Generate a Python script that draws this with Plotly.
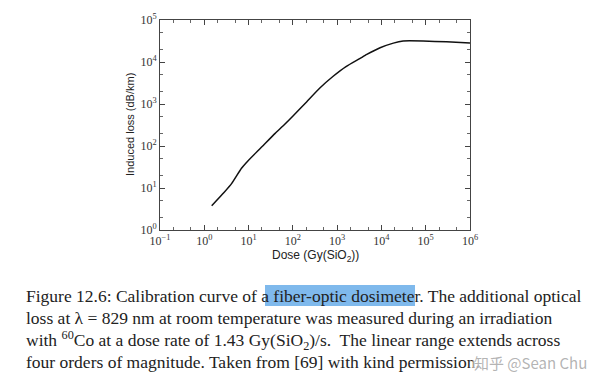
import plotly.graph_objects as go

# Data
dose = [1.47, 2.82, 4.17, 6.92, 9.77, 20.0, 39.8, 63.1, 102, 204, 407, 813, 1585,
        3236, 4677, 9333, 18621, 30903, 87096, 295121, 1000000]
loss = [3.8, 7.94, 12.9, 29.5, 44.7, 95.5, 200, 316, 525, 1122, 2399, 4571, 7762,
        12023, 15136, 21878, 28184, 31623, 31623, 30200, 28184]

x_tickvals = [0.1, 1, 10, 100, 1e3, 1e4, 1e5, 1e6]
x_ticktext = ["10<sup>−1</sup>", "10<sup>0</sup>", "10<sup>1</sup>", "10<sup>2</sup>",
              "10<sup>3</sup>", "10<sup>4</sup>", "10<sup>5</sup>", "10<sup>6</sup>"]
y_tickvals = [1, 10, 100, 1e3, 1e4, 1e5]
y_ticktext = ["10<sup>0</sup>", "10<sup>1</sup>", "10<sup>2</sup>", "10<sup>3</sup>",
              "10<sup>4</sup>", "10<sup>5</sup>"]

x_title = "Dose (Gy(SiO<sub>2</sub>))"
y_title = "Induced loss (dB/km)"

caption_lines = [
    "Figure 12.6: Calibration curve of a fiber-optic dosimeter. The additional optical",
    "loss at λ = 829 nm at room temperature was measured during an irradiation",
    "with <sup>60</sup>Co at a dose rate of 1.43 Gy(SiO<sub>2</sub>)/s.  The linear range extends across",
    "four orders of magnitude. Taken from [69] with kind permission.",
]
watermark = "知乎 @Sean Chu"

W, H = 600, 375
L, R, T, B = 160, 130, 20, 145
pw, ph = W - L - R, H - T - B

def px(x):
    return (x - L) / pw

def py(y):
    return (H - B - y) / ph

fig = go.Figure()
fig.add_trace(go.Scatter(x=dose, y=loss, mode="lines",
                         line=dict(color="#111", width=1.5, shape="spline", smoothing=0.5),
                         showlegend=False, hoverinfo="skip"))

tickfont = dict(family="Liberation Serif", size=12, color="#333")
axcommon = dict(type="log", showgrid=False, zeroline=False, showline=True,
                linecolor="#444", linewidth=1, mirror="ticks", ticks="inside",
                ticklen=5, tickcolor="#444", tickfont=tickfont,
                minor=dict(ticks="inside", ticklen=3, tickcolor="#666", showgrid=False))

fig.update_xaxes(**axcommon, range=[-1, 6], tickvals=x_tickvals, ticktext=x_ticktext)
fig.update_yaxes(**axcommon, range=[0, 5], tickvals=y_tickvals, ticktext=y_ticktext)

fig.add_annotation(text=x_title, xref="paper", yref="paper", x=px(315), y=py(256),
                   xanchor="center", yanchor="middle", showarrow=False,
                   font=dict(family="Liberation Sans", size=12, color="#222"))
fig.add_annotation(text=y_title, xref="paper", yref="paper", x=px(130), y=py(125),
                   xanchor="center", yanchor="middle", showarrow=False, textangle=-90,
                   font=dict(family="Liberation Sans", size=11, color="#222"))

# highlight
fig.add_shape(type="rect", xref="paper", yref="paper", layer="below",
              x0=px(265), x1=px(415), y0=py(306), y1=py(285),
              fillcolor="#7fb9ec", line=dict(width=0))

ys = [296, 318, 340, 362]
for t, yy in zip(caption_lines, ys):
    fig.add_annotation(text=t, xref="paper", yref="paper", x=px(24), y=py(yy),
                       xanchor="left", yanchor="middle", showarrow=False,
                       font=dict(family="Liberation Serif", size=17.5, color="#222"))

fig.add_annotation(text=watermark, xref="paper", yref="paper", x=px(589), y=py(362),
                   xanchor="right", yanchor="middle", showarrow=False,
                   bgcolor="rgba(255,255,255,0.55)",
                   font=dict(family="Noto Sans CJK SC", size=15, color="rgba(175,175,175,0.95)"))

fig.update_layout(width=W, height=H, margin=dict(l=L, r=R, t=T, b=B),
                  paper_bgcolor="white", plot_bgcolor="white")

fig.write_html("out.html", config={"displayModeBar": False},
               post_script="document.body.style.margin='0';")
